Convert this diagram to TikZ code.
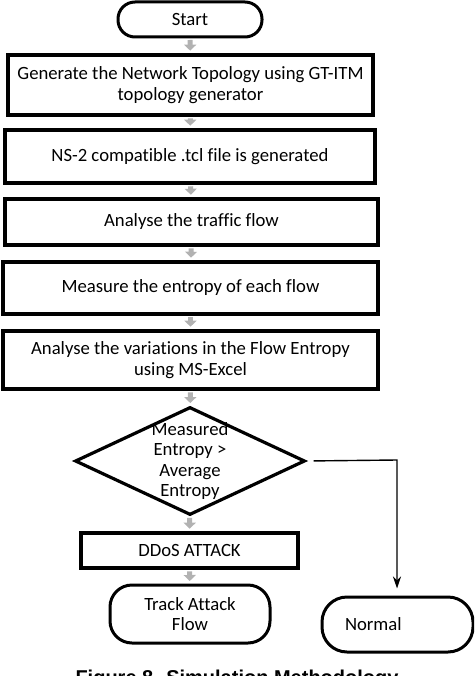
\documentclass[tikz,border=0pt]{standalone}
\usepackage{fontspec}
\setmainfont{Carlito}[Ligatures=NoCommon]
\newfontfamily\capfont{Liberation Sans}
\usetikzlibrary{shapes.geometric,arrows.meta}
\begin{document}
\begin{tikzpicture}[x=1pt,y=-1pt,
  every node/.style={font=\fontsize{18.7}{20.5}\selectfont, align=center, inner sep=0pt},
  procbox/.style={draw, line width=3.6pt, rectangle, minimum width=#1},
  termbox/.style={draw, line width=3pt, rectangle, rounded corners=#1},
  grayarrow/.style={draw=black!30, line width=5pt, -{Triangle[width=12pt,length=6pt]}, shorten <=1.5pt, shorten >=2.5pt},
  thinarrow/.style={draw=black, line width=1.4pt, -{Stealth[width=8pt,length=12pt]}}
]
\clip (0,0) rectangle (474,676);
\useasboundingbox (0,0) rectangle (474,676);

\node[termbox=17pt, minimum width=144pt, minimum height=35pt] (start) at (190,19.5) {Start};
\node[procbox=365pt, minimum height=60pt] (b1) at (190.5,85) {Generate the Network Topology using GT-ITM\\topology generator};
\node[procbox=370pt, minimum height=53pt] (b2) at (190,156.5) {NS-2 compatible .tcl file is generated};
\node[procbox=373pt, minimum height=46pt] (b3) at (191.5,222) {Analyse the traffic flow};
\node[procbox=375pt, minimum height=52pt] (b4) at (190.5,288) {Measure the entropy of each flow};
\node[procbox=375pt, minimum height=58pt] (b5) at (190.5,360) {Analyse the variations in the Flow Entropy\\using MS-Excel};
\node[draw, line width=3.2pt, diamond, minimum width=230pt, minimum height=108pt] (dia) at (190,461) {};
\node (diatext) at (190,461) {Measured\\Entropy >\\Average\\Entropy};
\node[procbox=217pt, minimum height=35pt] (ddos) at (189.5,550.5) {DDoS ATTACK};
\node[termbox=22pt, minimum width=160pt, minimum height=58pt] (track) at (190,614) {Track Attack\\Flow};
\node[termbox=25pt, minimum width=151pt, minimum height=55pt, text width=105pt, inner xsep=23pt, align=left] (normal) at (397.5,624.5) {Normal};
\coordinate (turn) at (397,460);

\draw[grayarrow] (start) -- (b1);
\draw[grayarrow] (b1) -- (b2);
\draw[grayarrow] (b2) -- (b3);
\draw[grayarrow] (b3) -- (b4);
\draw[grayarrow] (b4) -- (b5);
\draw[grayarrow] (b5) -- (dia);
\draw[grayarrow] (dia) -- (ddos);
\draw[grayarrow] (ddos) -- (track);
\draw[thinarrow, shorten <=7pt, shorten >=7pt] (dia.east) -- (turn) -- (normal.north -| turn);

\node[font=\capfont\bfseries\fontsize{20}{22}\selectfont, anchor=north] (caption) at (237,669.5) {Figure 8. Simulation Methodology};
\end{tikzpicture}
\end{document}
